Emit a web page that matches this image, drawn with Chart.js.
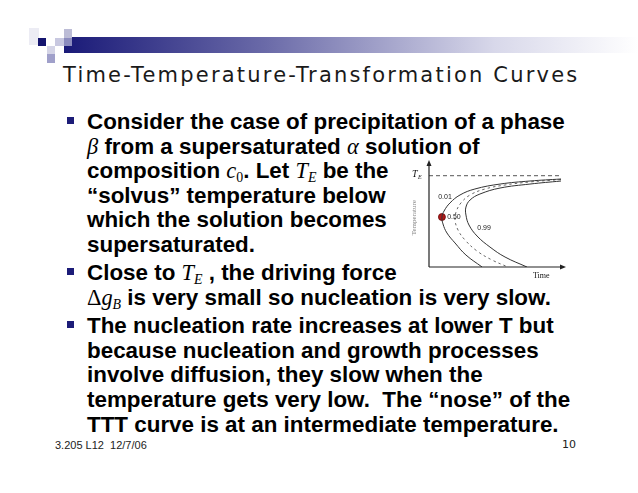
<!DOCTYPE html>
<html lang="en">
<head>
<meta charset="UTF-8" />
<title>Time-Temperature-Transformation Curves</title>
<script src="https://cdn.jsdelivr.net/npm/chart.js"></script>
<style>
  html, body { margin:0; padding:0; width:638px; height:493px; background:#fff; overflow:hidden; }
  body { position:relative; }
  .sq { position:absolute; }
  .bar { position:absolute; left:64px; top:37px; width:574px; height:16px;
         background:linear-gradient(to right, #1a1a78 0%, #6a6aa8 35%, #d8d8ea 75%, #ffffff 100%); }
  .title { position:absolute; left:63px; top:63px; font-family:"DejaVu Sans"; font-size:21px; line-height:24px;
           letter-spacing:2.2px; color:#1a1a1a; white-space:nowrap; }
  .ln { position:absolute; left:87px; font-family:"Liberation Sans", Arial; font-weight:bold; font-size:22.4px;
        line-height:24px; white-space:nowrap; color:#000; }
  .m { font-family:"Liberation Serif"; font-style:italic; font-weight:normal; }
  .up { font-family:"Liberation Serif"; font-style:normal; font-weight:normal; }
  sub { font-size:0.62em; vertical-align:-0.3em; line-height:0; }
  .bullet { position:absolute; left:67px; width:7px; height:7px; background:#1c1c78; }
  .foot { position:absolute; font-family:"Liberation Sans", Arial; font-size:11px; line-height:12px; color:#222; white-space:nowrap; }
  #chartBox { position:absolute; left:400px; top:155px; width:180px; height:135px; }
</style>
</head>
<body>
  <div class="bar"></div>
  <div class="sq" style="left:29px;top:28px;width:10px;height:17px;background:#ececf4"></div>
  <div class="sq" style="left:38px;top:38px;width:8px;height:8px;background:#14146e"></div>
  <div class="sq" style="left:55px;top:38px;width:9px;height:8px;background:#c8c8e0"></div>
  <div class="sq" style="left:64px;top:29px;width:8px;height:9px;background:#bcbcd6"></div>
  <div class="sq" style="left:64px;top:38px;width:8px;height:8px;background:#8c8cbe"></div>
  <div class="sq" style="left:47px;top:46px;width:8px;height:8px;background:#d4d4e6"></div>
  <div class="sq" style="left:47px;top:54px;width:8px;height:9px;background:#a0a0ca"></div>

  <div class="title">Time-Temperature-Transformation Curves</div>

  <div class="bullet" style="top:117px"></div>
  <div class="ln" style="top:110px">Consider the case of precipitation of a phase</div>
  <div class="ln" style="top:134.5px"><span class="m">β</span> from a supersaturated <span class="m">α</span> solution of</div>
  <div class="ln" style="top:159px">composition <span class="m">c</span><sub class="up">0</sub>. Let <span class="m">T</span><sub class="m">E</sub> be the</div>
  <div class="ln" style="top:183.5px">“solvus” temperature below</div>
  <div class="ln" style="top:208px">which the solution becomes</div>
  <div class="ln" style="top:232.5px">supersaturated.</div>

  <div class="bullet" style="top:268px"></div>
  <div class="ln" style="top:261px">Close to <span class="m">T</span><sub class="m">E</sub> , the driving force</div>
  <div class="ln" style="top:285.5px"><span class="up">Δ</span><span class="m">g</span><sub class="m">B</sub> is very small so nucleation is very slow.</div>

  <div class="bullet" style="top:321px"></div>
  <div class="ln" style="top:314px">The nucleation rate increases at lower T but</div>
  <div class="ln" style="top:338.5px">because nucleation and growth processes</div>
  <div class="ln" style="top:363px">involve diffusion, they slow when the</div>
  <div class="ln" style="top:388px">temperature gets very low.&nbsp; The “nose” of the</div>
  <div class="ln" style="top:413px">TTT curve is at an intermediate temperature.</div>

  <div class="foot" style="left:55px;top:439px">3.205 L12&nbsp; 12/7/06</div>
  <div class="foot" style="left:562px;top:439px;font-family:'DejaVu Sans'">10</div>

  <div id="chartBox"><canvas id="tttChart" width="180" height="135"></canvas></div>

<script>
// schematic axes in arbitrary units: time 0-100, temperature 0-100
const solvusT = 87;
const timeRange = [0, 100];

// fraction transformed curves (time, temperature)
const curve001Time = [100, 76.5, 53.8, 34.8, 23.5, 15.9, 11.4, 9.8, 10.6, 13.6, 19.7, 28.0, 40.2];
const curve001Temp = [83.8, 81.9, 79.0, 74.3, 68.6, 61.0, 53.3, 47.6, 41.0, 32.4, 22.9, 11.4, 0];

const curve050Time = [100, 76.5, 57.6, 42.4, 31.1, 24.2, 20.5, 19.7, 22.0, 27.3, 36.4, 47.7, 59.8];
const curve050Temp = [83.3, 81.0, 78.1, 74.3, 68.6, 61.0, 52.4, 44.8, 35.2, 25.7, 15.2, 6.7, 0];

const curve099Time = [100, 76.5, 53.8, 38.6, 31.1, 28.0, 28.0, 30.3, 36.4, 46.2, 57.6, 74.2];
const curve099Temp = [81.9, 79.0, 75.2, 69.5, 63.8, 57.1, 49.5, 40.0, 29.5, 19.0, 9.5, 0];

// nose point marked on the 1% curve
const noseTime = [9.8];
const noseTemp = [47.6];

const curveLabels = ["0.01", "0.50", "0.99"];

function pts(xs, ys) {
    return xs.map((x, i) => ({ x: x, y: ys[i] }));
}

// axes with arrows and the hand-drawn labels
const sketchAxes = {
    id: "sketchAxes",
    afterDatasetsDraw(chart) {
        const ctx = chart.ctx;
        const xs = chart.scales.x;
        const ys = chart.scales.y;
        const x0 = xs.getPixelForValue(0);
        const y0 = ys.getPixelForValue(0);
        const yTop = ys.getPixelForValue(100) - 2;
        const xEnd = xs.getPixelForValue(100) + 5;

        ctx.save();
        ctx.strokeStyle = "#222";
        ctx.fillStyle = "#222";
        ctx.lineWidth = 1.2;
        ctx.beginPath();
        ctx.moveTo(x0, y0);
        ctx.lineTo(x0, yTop + 4);
        ctx.moveTo(x0, y0);
        ctx.lineTo(xEnd - 4, y0);
        ctx.stroke();
        // arrow heads
        ctx.beginPath();
        ctx.moveTo(x0, yTop);
        ctx.lineTo(x0 - 2.5, yTop + 6);
        ctx.lineTo(x0 + 2.5, yTop + 6);
        ctx.closePath();
        ctx.fill();
        ctx.beginPath();
        ctx.moveTo(xEnd, y0);
        ctx.lineTo(xEnd - 6, y0 - 2.5);
        ctx.lineTo(xEnd - 6, y0 + 2.5);
        ctx.closePath();
        ctx.fill();

        // T_E label
        const yE = ys.getPixelForValue(solvusT);
        ctx.fillStyle = "#111";
        ctx.textBaseline = "middle";
        ctx.font = "italic 10px 'Liberation Serif'";
        ctx.textAlign = "left";
        ctx.fillText("T", x0 - 17, yE - 1);
        ctx.font = "italic 6px 'Liberation Serif'";
        ctx.fillText("E", x0 - 11, yE + 2);

        // Temperature (rotated, faint)
        ctx.save();
        ctx.translate(x0 - 15, ys.getPixelForValue(47));
        ctx.rotate(-Math.PI / 2);
        ctx.textAlign = "center";
        ctx.fillStyle = "#888";
        ctx.font = "7px 'Liberation Serif'";
        ctx.fillText("Temperature", 0, 0);
        ctx.restore();

        // Time
        ctx.textAlign = "center";
        ctx.fillStyle = "#111";
        ctx.font = "8px 'Liberation Serif'";
        ctx.fillText("Time", xs.getPixelForValue(85), y0 + 9);

        // curve fraction labels
        const anchors = [[12.1, 66.7], [18.9, 47.6], [41.7, 37.1]];
        ctx.font = "7px 'Liberation Sans'";
        ctx.fillStyle = "#222";
        curveLabels.forEach((t, i) => {
            ctx.fillText(t, xs.getPixelForValue(anchors[i][0]), ys.getPixelForValue(anchors[i][1]));
        });
        ctx.restore();
    }
};

new Chart(document.getElementById("tttChart").getContext("2d"), {
    type: "scatter",
    data: {
        datasets: [
            {
                label: "T_E",
                data: [{ x: timeRange[0], y: solvusT }, { x: timeRange[1], y: solvusT }],
                showLine: true,
                borderColor: "#777",
                borderWidth: 1.2,
                borderDash: [4, 3],
                pointRadius: 0,
            },
            {
                label: "0.01",
                data: pts(curve001Time, curve001Temp),
                showLine: true,
                borderColor: "#333",
                borderWidth: 1,
                tension: 0.4,
                pointRadius: 0,
            },
            {
                label: "0.50",
                data: pts(curve050Time, curve050Temp),
                showLine: true,
                borderColor: "#666",
                borderWidth: 1,
                borderDash: [2.5, 3],
                tension: 0.4,
                pointRadius: 0,
            },
            {
                label: "0.99",
                data: pts(curve099Time, curve099Temp),
                showLine: true,
                borderColor: "#333",
                borderWidth: 1,
                tension: 0.4,
                pointRadius: 0,
            },
            {
                label: "nose",
                data: pts(noseTime, noseTemp),
                pointRadius: 3.5,
                backgroundColor: "#b01818",
                borderColor: "#6a0a0a",
                borderWidth: 0.8,
            },
        ],
    },
    options: {
        responsive: false,
        animation: false,
        layout: { padding: { left: 29, right: 19, top: 7, bottom: 23 } },
        plugins: { legend: { display: false }, tooltip: { enabled: false } },
        scales: {
            x: { display: false, min: 0, max: 100 },
            y: { display: false, min: 0, max: 100 },
        },
    },
    plugins: [sketchAxes],
});
</script>
</body>
</html>
